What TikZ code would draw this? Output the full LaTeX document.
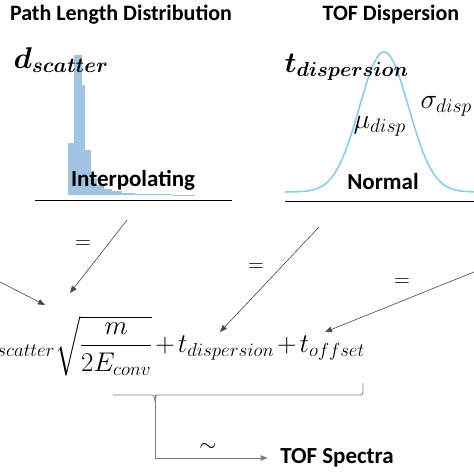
\RequirePackage{fix-cm}
\documentclass[tikz,border=0pt]{standalone}
\usepackage{amsmath,bm}
\usepackage{fontspec}
\setsansfont{Carlito}
\usetikzlibrary{arrows.meta}
\definecolor{histblue}{RGB}{160,196,226}
\definecolor{curveblue}{RGB}{140,204,232}
\definecolor{conngray}{RGB}{70,70,70}
\tikzset{
  title/.style={font=\sffamily\bfseries\fontsize{22}{24}\selectfont},
  label/.style={font=\sffamily\bfseries\fontsize{23}{25}\selectfont},
  conn/.style={draw=conngray,line width=0.6pt,-{Triangle[length=7pt,width=5.5pt]}},
  brace/.style={draw=gray,line width=0.8pt},
  eqsign/.style={font=\fontsize{22}{24}\selectfont},
}
\begin{document}
\begin{tikzpicture}[x=1pt,y=-1pt]
  \useasboundingbox (0,0) rectangle (474,474);
  \clip (0,0) rectangle (474,474);
  % titles
  \node[title] (ptitle) at (121,15) {Path Length Distribution};
  \node[title] (ttitle) at (391,15) {TOF Dispersion};
  % histogram
  \foreach \xa/\xb/\top in {68/74/143, 74/82/55, 82/85/85, 85/91/150, 91/97/178, 97/104/185,
      104/112/189, 112/122/191, 122/135/192.5, 135/152/193.5, 152/172/194, 172/195/194.5}
    \fill[histblue] (\xa,195) rectangle (\xb,\top);
  \draw[line width=1pt] (35,200) -- (232,200);
  \node[anchor=base west,font=\fontsize{30}{32}\selectfont] (dscat) at (10,68) {$\bm{d_{scatter}}$};
  \node[label] (interp) at (133,180) {Interpolating};
  % normal curve
  \draw[curveblue,line width=1.6pt] plot[domain=285:480,samples=90]
    (\x,{192-140*exp(-((\x-384)^2)/(2*24.6^2))});
  \draw[line width=1pt] (285,201) -- (474,201);
  \node[anchor=base west,font=\fontsize{29}{31}\selectfont] (tdisp) at (281,72) {$\bm{t_{dispersion}}$};
  \node[anchor=base west,font=\fontsize{28}{30}\selectfont] (mu) at (350,128) {$\mu_{disp}$};
  \node[anchor=base west,font=\fontsize{28}{30}\selectfont] (sigma) at (417,108) {$\sigma_{disp}$};
  \node[label] (normal) at (383,182) {Normal};
  % equation
  \node[anchor=east,inner sep=0pt,font=\fontsize{27}{31}\selectfont] (eq) at (365,346)
    {\medmuskip=2mu $\displaystyle d_{scatter}\sqrt{\frac{m}{2E_{conv}}}+t_{dispersion}+t_{offset}$};
  \coordinate (a1s) at (0,282);   \coordinate (a1e) at (45,305);
  \coordinate (a2s) at (127,220); \coordinate (a2e) at (70,293);
  \coordinate (a3s) at (319,227); \coordinate (a3e) at (220,332);
  \coordinate (a4s) at (474,272); \coordinate (a4e) at (325,332);
  \draw[conn] (a1s) -- (a1e);
  \draw[conn] (a2s) -- (a2e);
  \draw[conn] (a3s) -- (a3e);
  \draw[conn] (a4s) -- (a4e);
  \node[eqsign] (eq2) at (83,245) {$=$};
  \node[eqsign] (eq3) at (256,268) {$=$};
  \node[eqsign] (eq4) at (402,283) {$=$};
  % brace and result
  \coordinate (bl) at (113,395);
  \coordinate (br) at (363,383);
  \coordinate (bm) at (155,395);
  \coordinate (corner) at (155,458);
  \draw[brace] (bl) -- (152,395) .. controls (154,395) .. (155,401)
    .. controls (156,395) .. (158,395) -- (361,395) .. controls (363,395) .. (br);
  \draw[brace] (bm) -- (corner);
  \node[label] (spectra) at (337,458) {TOF Spectra};
  \draw[conn,draw=gray,shorten >=9pt] (corner) -- (spectra.west);
  \node[eqsign] (tilde) at (208,447) {$\sim$};
\end{tikzpicture}
\end{document}
